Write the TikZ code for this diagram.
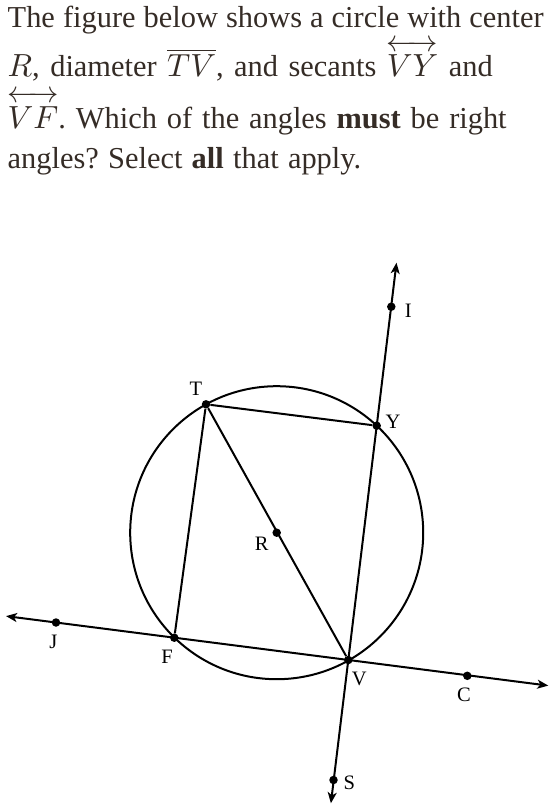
\documentclass[tikz,border=0pt]{standalone}
\usepackage{amsmath}
\usepackage{fontspec}
\setmainfont{Liberation Serif}
\usetikzlibrary{arrows.meta}
\DeclareFontShape{OMS}{cmsy}{m}{n}{<->cmsy10}{}
\DeclareFontShape{OML}{cmm}{m}{it}{<->cmmi10}{}
\definecolor{txt}{HTML}{352C26}
\newsavebox\ovbox
\makeatletter
\newcommand\mth[1]{{\fontsize{32}{36}\selectfont$#1$}}
\newcommand\ovl[1]{\vbox{\offinterlineskip\hrule height 1.3pt\kern 4pt\hbox{#1}}}
\newcommand\ovarr[1]{\sbox\ovbox{#1}\vbox{\offinterlineskip\hbox to\wd\ovbox{\leftrightarrowfill@\textstyle}\kern 3.5pt\box\ovbox}}
\makeatother
\frenchspacing
\begin{document}
\begin{tikzpicture}[x=1pt,y=-1pt,
  dot/.style={circle,fill=black,inner sep=0pt,minimum size=8.5pt},
  lbl/.style={font=\fontsize{20.5}{24}\selectfont,inner sep=0pt},
  seg/.style={line width=2pt},
  ray/.style={line width=2pt,{Stealth[length=11pt,width=9pt,inset=3pt]}-{Stealth[length=11pt,width=9pt,inset=3pt]}},
  qline/.style={anchor=base west,inner sep=0pt,text=txt,font=\fontsize{30.4}{36}\selectfont}]
\useasboundingbox (0,0) rectangle (553,809);
\node[qline] (q1) at (7.5,27.3) {\makebox[536pt][s]{The figure below shows a circle with center}};
\node[qline] (q2) at (7.5,76.7) {\makebox[485pt][s]{\mth{R}, diameter \ovl{\mth{TV}}, and secants \ovarr{\mth{VY}} and}};
\node[qline] (q3) at (7.5,128.3) {\makebox[499pt][s]{\ovarr{\mth{VF}}. Which of the angles \textbf{must} be right}};
\node[qline] (q4) at (7.5,168.3) {\makebox[353.5pt][s]{angles? Select \textbf{all} that apply.}};
% points
\coordinate (Rc) at (276.7,532.7);
\node[dot] (R) at (Rc) {};
\node[dot] (T) at (206,404.3) {};
\node[dot] (Y) at (376.7,425.7) {};
\node[dot] (V) at (348.3,660) {};
\node[dot] (F) at (174.3,637.7) {};
\node[dot] (I) at (391.3,306.7) {};
\node[dot] (S) at (333.5,780) {};
\node[dot] (J) at (56,622.5) {};
\node[dot] (C) at (467.3,675.8) {};
\coordinate (Iend) at (396.5,262.7);
\coordinate (Send) at (330.9,803.3);
\coordinate (Jend) at (6,616.1);
\coordinate (Cend) at (548.3,685.6);
% circle and segments
\draw[seg] (Rc) circle[radius=146.5];
\draw[seg] (T) -- (Y);
\draw[seg] (T) -- (F);
\draw[seg] (T) -- (V);
\draw[ray] (Send) -- (Iend);
\draw[ray] (Jend) -- (Cend);
% labels
\node[lbl] (lT) at (196,388.3) {T};
\node[lbl] (lY) at (393,421.7) {Y};
\node[lbl] (lI) at (408.3,311) {I};
\node[lbl] (lR) at (261.7,543.3) {R};
\node[lbl] (lJ) at (53.3,641.7) {J};
\node[lbl] (lF) at (167,656.7) {F};
\node[lbl] (lV) at (359.3,679.3) {V};
\node[lbl] (lC) at (464,695) {C};
\node[lbl] (lS) at (349.3,783.3) {S};
\end{tikzpicture}
\end{document}
